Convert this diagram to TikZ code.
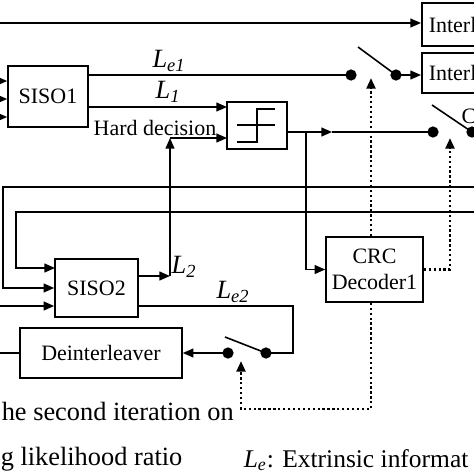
\documentclass[tikz,border=0pt]{standalone}
\usepackage{fontspec}
\setmainfont{Liberation Serif}
\usetikzlibrary{arrows.meta}
\newcommand{\Lsub}[1]{\textit{L}\textsubscript{\textit{#1}}}

\begin{document}
\begin{tikzpicture}[x=0.02cm, y=-0.02cm,
  line width=0.9pt,
  box/.style={draw, line width=0.9pt, inner sep=0pt, font=\fontsize{12.5}{14.5}\selectfont, align=center},
  arr/.style={-{Triangle[length=6pt, width=5pt]}},
  dotarr/.style={-{Triangle[length=6pt, width=5pt]}, line width=1.4pt, dash pattern=on 1.3pt off 1.5pt},
  lab/.style={font=\fontsize{12.5}{14.5}\selectfont, inner sep=0pt},
  sym/.style={font=\fontsize{15}{17}\selectfont, inner sep=0pt},
  note/.style={font=\fontsize{15}{18}\selectfont, inner sep=0pt}]
  \useasboundingbox (0,0) rectangle (474,474);
  \clip (0,0) rectangle (474,474);

  % ブロック
  \node[box, minimum width=1.6cm, minimum height=1.22cm] (siso1) at (48,96.5) {SISO1};
  \node[box, anchor=west, text width=2.4cm, align=left, inner xsep=4pt, minimum height=0.86cm] (intlA) at (421,24.5) {Interl};
  \node[box, anchor=west, text width=2.4cm, align=left, inner xsep=4pt, minimum height=0.8cm] (intlB) at (421,73) {Interl};
  \node[box, minimum width=1.2cm, minimum height=0.94cm] (hd) at (257,125.5) {};
  \node[box, minimum width=1.94cm, minimum height=1.3cm] (crc) at (374.5,269.5) {CRC\\Decoder1};
  \node[box, minimum width=1.66cm, minimum height=1.16cm] (siso2) at (96.5,288) {SISO2};
  \node[box, minimum width=3.24cm, minimum height=1.0cm] (deint) at (101,353) {Deinterleaver};

  % 硬判定の記号
  \draw (237,142) -- (257,142) -- (257,109) -- (275,109);
  \draw (237,125) -- (275,125);

  % スイッチ
  \coordinate (swA1) at (351,75);
  \coordinate (swA2) at (396,75);
  \coordinate (swB1) at (433,132);
  \coordinate (swB2) at (472,132);
  \coordinate (swC1) at (228,353);
  \coordinate (swC2) at (266,353);
  \draw (358,47) -- (swA2);
  \draw (432,105) -- (swB2);
  \draw (225,337) -- (swC2);
  \foreach \p in {swA1,swA2,swB1,swB2,swC1,swC2}
    \fill (\p) circle (3.2pt);

  % SISO1 の入出力
  \coordinate (topin) at (0,23);
  \draw[arr] (topin) -- (topin -| intlA.west);
  \foreach \y [count=\i] in {81,99,117} {
    \coordinate (s1in\i) at (0,\y);
    \draw[arr] (s1in\i) -- (s1in\i -| siso1.west);
  }
  \draw (siso1.east |- swA1) -- (swA1);
  \draw[arr] (swA2) -- (swA2 -| intlB.west);
  \coordinate (hdin1) at (227,107);
  \draw[arr] (siso1.east |- hdin1) -- (hdin1);
  \node[sym] (le1) at (169,61) {\Lsub{e1}};
  \node[sym] (l1) at (168,92) {\Lsub{1}};
  \node[lab] (hdtxt) at (155,128) {Hard decision};

  % 硬判定の出力
  \coordinate (midB) at (332,132);
  \coordinate (brB) at (306,132);
  \draw[arr] (hd.east |- swB1) -- (midB);
  \draw (midB) -- (swB1);
  \draw[arr] (brB) |- (crc.west);
  \node[lab] (ctxt) at (469,116) {C};

  % 帰還線
  \coordinate (lineA) at (480,187);
  \coordinate (aL) at (3,187);
  \draw[arr] (lineA) -- (aL) |- (siso2.west);
  \coordinate (lineB) at (480,212);
  \coordinate (bL) at (16,212);
  \coordinate (s2in1) at (55,268);
  \draw[arr] (lineB) -- (bL) |- (s2in1);
  \coordinate (s2in3) at (0,306);
  \draw[arr] (s2in3) -- (s2in3 -| siso2.west);

  % SISO2 の出力
  \coordinate (l2) at (170,276);
  \coordinate (hdin2) at (227,138);
  \draw[arr] (siso2.east |- l2) -- (l2);
  \draw[arr] (l2) -- (l2 |- hdin2);
  \draw[arr] (l2 |- hdin2) -- (hdin2);
  \node[sym] (l2txt) at (184,267) {\Lsub{2}};
  \coordinate (le2c) at (293,306);
  \draw (siso2.east |- le2c) -- (le2c) |- (swC2);
  \draw[arr] (swC1) -- (swC1 -| deint.east);
  \node[sym] (le2) at (233,292) {\Lsub{e2}};
  \coordinate (dlin) at (0,353);
  \draw (dlin) -- (dlin -| deint.west);

  % 制御信号（点線）
  \coordinate (ctlA) at (371,78);
  \coordinate (ctlB) at (450,138);
  \coordinate (ctlC) at (241,361);
  \coordinate (dbot) at (371,409);
  \draw[dotarr] (ctlA |- crc.north) -- (ctlA);
  \draw[dotarr] (crc.east) -| (ctlB);
  \draw[dotarr] (dbot |- crc.south) -- (dbot) -| (ctlC);

  % 注記
  \node[note, anchor=base west] (n1) at (1,420) {he second iteration on};
  \node[note, anchor=base west] (n2) at (0,465) {g likelihood ratio};
  \node[note, anchor=base west, font=\fontsize{14.5}{18}\selectfont] (n3) at (243,467) {\Lsub{e}: Extrinsic informat};
\end{tikzpicture}
\end{document}
